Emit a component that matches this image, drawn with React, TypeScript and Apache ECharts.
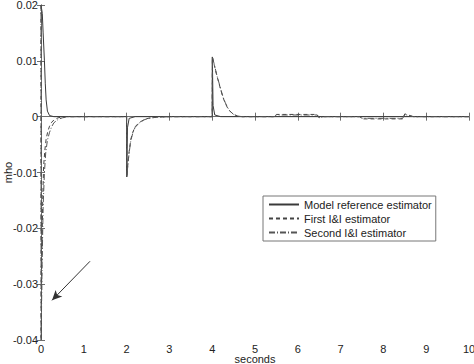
import React, { useEffect, useRef } from "react";
import * as echarts from "echarts";

const seriesNames = ["Model reference estimator", "First I&I estimator", "Second I&I estimator"];

const tModel = [0, 0.03, 0.05, 0.08, 0.1, 0.12, 0.15, 0.2, 0.3, 2, 2.003, 2.02, 2.06, 2.2, 4, 4.003, 4.02, 4.06, 4.2, 10];
const yModel = [0.02, 0.0185, 0.015, 0.01, 0.006, 0.003, 0.001, 0.0002, 0, 0, -0.0108, -0.002, -0.0003, 0, 0, 0.0107, 0.002, 0.0003, 0, 0];

const tFirst = [0, 0.003, 0.02, 0.04, 0.06, 0.09, 0.12, 0.16, 0.2, 0.25, 0.3, 0.4, 0.55, 2, 2.005, 2.03, 2.06, 2.1, 2.15, 2.2, 2.3, 2.4, 2.5, 2.7, 3, 4, 4.005, 4.05, 4.1, 4.15, 4.2, 4.25, 4.3, 4.35, 4.4, 4.5, 4.6, 4.7, 5.45, 5.5, 6.45, 6.5, 6.6, 7.45, 7.5, 8.45, 8.5, 8.7, 10];
const yFirst = [0.02, -0.04, -0.025, -0.015, -0.009, -0.006, -0.004, -0.0026, -0.0017, -0.001, -0.0006, -0.0002, 0, 0, -0.0108, -0.0085, -0.0062, -0.004, -0.0027, -0.0018, -0.001, -0.0006, -0.0003, -0.0001, 0, 0, 0.0107, 0.0092, 0.0076, 0.0062, 0.0048, 0.0035, 0.0025, 0.0017, 0.0011, 0.0004, 0.0001, 0, 0, 0.0004, 0.0004, -0.0002, 0, 0, -0.0004, -0.0004, 0.0005, 0, 0];

const tSecond = [0, 0.003, 0.025, 0.05, 0.08, 0.11, 0.15, 0.2, 0.25, 0.3, 0.4, 0.5, 0.65, 2, 2.005, 2.03, 2.06, 2.1, 2.15, 2.2, 2.3, 2.4, 2.5, 2.7, 3, 4, 4.005, 4.05, 4.1, 4.15, 4.2, 4.25, 4.3, 4.35, 4.4, 4.5, 4.6, 4.7, 5.45, 5.5, 6.45, 6.5, 6.6, 7.45, 7.5, 8.45, 8.5, 8.7, 10];
const ySecond = [0.02, -0.04, -0.027, -0.016, -0.01, -0.0065, -0.0042, -0.0028, -0.0018, -0.0011, -0.0005, -0.0002, 0, 0, -0.0108, -0.0086, -0.0064, -0.0042, -0.0028, -0.0019, -0.0011, -0.0006, -0.0003, -0.0001, 0, 0, 0.0107, 0.0093, 0.0077, 0.0063, 0.0049, 0.0036, 0.0026, 0.0018, 0.0011, 0.0004, 0.0001, 0, 0, 0.0003, 0.0003, -0.0002, 0, 0, -0.0003, -0.0003, 0.0004, 0, 0];

const arrowFrom = [1.145, -0.0259];
const arrowTo = [0.257, -0.0329];

const zip = (t: number[], y: number[]) => t.map((v, i) => [v, y[i]]);

const FONT = "'Liberation Sans', Arial, Helvetica, sans-serif";
const AXIS = "#6e6e6e";

export default function App() {
  const ref = useRef<HTMLDivElement>(null);
  useEffect(() => {
    if (!ref.current) return;
    const chart = echarts.init(ref.current, undefined, { renderer: "svg" });
    const fmtY = (v: number) => (Math.abs(v) < 1e-9 ? "0" : v.toFixed(2));
    const common = {
      axisLine: { show: true, lineStyle: { color: AXIS, width: 1 } },
      axisTick: { show: true, inside: true, length: 4, lineStyle: { color: AXIS } },
      splitLine: { show: false },
    };
    chart.setOption({
      animation: false,
      backgroundColor: "#ffffff",
      textStyle: { fontFamily: FONT },
      grid: { left: 41, right: 5, top: 5, bottom: 24, containLabel: false, outerBoundsMode: "none" },
      legend: {
        orient: "vertical",
        left: 263,
        top: 196,
        data: seriesNames,
        backgroundColor: "#ffffff",
        borderColor: "#777",
        borderWidth: 1,
        padding: [3, 4, 3, 5],
        itemGap: 3,
        itemWidth: 30,
        itemHeight: 13,
        itemStyle: { opacity: 0 },
        textStyle: { fontSize: 11, color: "#222", fontFamily: FONT },
      },
      xAxis: [
        {
          type: "value", min: 0, max: 10, interval: 1, position: "bottom",
          name: "seconds", nameLocation: "middle", nameGap: 14, nameMoveOverlap: false,
          nameTextStyle: { fontSize: 11, lineHeight: 10, color: "#222", fontFamily: FONT },
          axisLabel: { fontSize: 11, lineHeight: 11, color: "#222", margin: 3, fontFamily: FONT },
          ...common,
        },
        {
          type: "value", min: 0, max: 10, interval: 1, position: "top",
          axisLabel: { show: false },
          ...common,
        },
      ],
      yAxis: [
        {
          type: "value", min: -0.04, max: 0.02, interval: 0.01, position: "left",
          name: "mho", nameLocation: "middle", nameGap: 28, nameMoveOverlap: false,
          nameTextStyle: { fontSize: 11, color: "#222", fontFamily: FONT },
          axisLabel: { fontSize: 11, color: "#222", margin: 3, formatter: fmtY, fontFamily: FONT },
          ...common,
        },
        {
          type: "value", min: -0.04, max: 0.02, interval: 0.01, position: "right",
          axisLabel: { show: false },
          ...common,
        },
      ],
      series: [
        {
          name: seriesNames[0],
          type: "line",
          data: zip(tModel, yModel),
          symbol: "none",
          clip: true,
          lineStyle: { color: "#3a3a3a", width: 1, type: "solid" },
          itemStyle: { color: "#3a3a3a" },
          markLine: {
            silent: true,
            symbol: ["none", "arrow"],
            symbolSize: [7, 10],
            label: { show: false },
            lineStyle: { color: "#333", width: 1, type: "solid" },
            data: [[{ coord: arrowFrom }, { coord: arrowTo }]],
          },
        },
        {
          name: seriesNames[1],
          type: "line",
          data: zip(tFirst, yFirst),
          symbol: "none",
          clip: true,
          lineStyle: { color: "#444", width: 1, type: [4, 3] },
          itemStyle: { color: "#444" },
        },
        {
          name: seriesNames[2],
          type: "line",
          data: zip(tSecond, ySecond),
          symbol: "none",
          clip: true,
          lineStyle: { color: "#555", width: 1, type: [6, 2, 1, 2] },
          itemStyle: { color: "#555" },
        },
      ],
    });
    return () => chart.dispose();
  }, []);
  return <div ref={ref} style={{ width: 474, height: 364, position: "absolute", left: 0, top: 0 }} />;
}
